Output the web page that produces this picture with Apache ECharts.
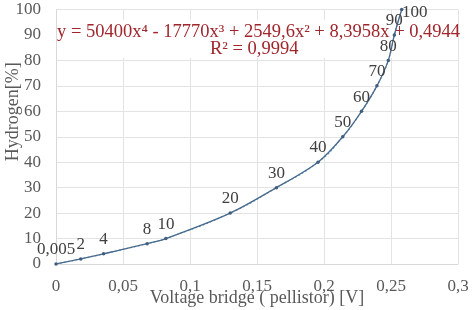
<!DOCTYPE html>
<html>
<head>
<meta charset="utf-8">
<script src="https://cdn.jsdelivr.net/npm/echarts@6/dist/echarts.min.js"></script>
<style>html,body{margin:0;padding:0;background:#fff}#c{width:474px;height:310px}</style>
</head>
<body>
<div id="c"></div>
<script>
var voltage = [0, 0.0185, 0.0355, 0.068, 0.082, 0.130, 0.1645, 0.1955, 0.214, 0.228, 0.2395, 0.248, 0.2525, 0.258];
var hydrogen = [0.005, 2, 4, 8, 10, 20, 30, 40, 50, 60, 70, 80, 90, 100];
var pointLabels = ['0,005', '2', '4', '8', '10', '20', '30', '40', '50', '60', '70', '80', '90', '100'];
var xTicks = ['0', '0,05', '0,1', '0,15', '0,2', '0,25', '0,3'];
var equationText = 'y = 50400x\u2074 - 17770x\u00b3 + 2549,6x\u00b2 + 8,3958x + 0,4944';
var r2Text = 'R\u00b2 = 0,9994';

var FONT = '"Liberation Serif", "Times New Roman", serif';
var pts = voltage.map(function (v, i) { return [v, hydrogen[i]]; });
var labelled = voltage.map(function (v, i) {
  var d = { value: [v, hydrogen[i]], label: { formatter: pointLabels[i] } };
  if (i === voltage.length - 1) {
    d.label.position = 'inside';
    d.label.offset = [13, 3];
  }
  return d;
});

var chart = echarts.init(document.getElementById('c'), null, { renderer: 'canvas' });
chart.setOption({
  animation: false,
  backgroundColor: '#fff',
  grid: { left: 56, right: 16, top: 9.5, bottom: 46, containLabel: false, outerBoundsMode: 'none' },
  xAxis: {
    type: 'value', min: 0, max: 0.3, interval: 0.05,
    name: 'Voltage bridge ( pellistor) [V]', nameLocation: 'middle', nameGap: 25, nameMoveOverlap: false,
    nameTextStyle: { fontFamily: FONT, fontSize: 18, color: '#595959' },
    axisLine: { show: true, lineStyle: { color: '#D9D9D9' } },
    axisTick: { show: false },
    axisLabel: { fontFamily: FONT, fontSize: 17, color: '#595959', margin: 14,
      formatter: function (v) { return xTicks[Math.round(v / 0.05)]; } },
    splitLine: { show: true, lineStyle: { color: '#E3E3E3' } }
  },
  yAxis: {
    type: 'value', min: 0, max: 100, interval: 10,
    name: 'Hydrogen[%]', nameLocation: 'middle', nameGap: 34, nameMoveOverlap: false,
    nameTextStyle: { fontFamily: FONT, fontSize: 18, color: '#595959', padding: [0, 0, 0, 50] },
    axisLine: { show: true, lineStyle: { color: '#D9D9D9' } },
    axisTick: { show: false },
    axisLabel: { fontFamily: FONT, fontSize: 17, color: '#595959', margin: 15 },
    splitLine: { show: true, lineStyle: { color: '#E3E3E3' } }
  },
  series: [
    {
      type: 'line', data: pts, smooth: true, symbol: 'none',
      lineStyle: { color: '#5B9BD5', width: 1.2, type: [2, 2] }, z: 5
    },
    {
      type: 'line', data: labelled, smooth: 0.3, symbol: 'circle', symbolSize: 3.5,
      itemStyle: { color: '#3F5D7E' },
      lineStyle: { color: '#4A6A8C', width: 1.3 },
      label: { show: true, position: 'top', distance: 4, fontFamily: FONT, fontSize: 17, color: '#404040' },
      z: 6
    }
  ],
  graphic: [
    { type: 'rect', z: 1, shape: { x: 57, y: 20, width: 400, height: 38 }, style: { fill: '#fff' } },
    { type: 'text', z: 2, left: 57, top: 23, style: { text: equationText, font: '18.5px ' + FONT, fill: '#A0262C' } },
    { type: 'text', z: 2, left: 210, top: 40, style: { text: r2Text, font: '18.5px ' + FONT, fill: '#A0262C' } }
  ]
});
</script>
</body>
</html>
